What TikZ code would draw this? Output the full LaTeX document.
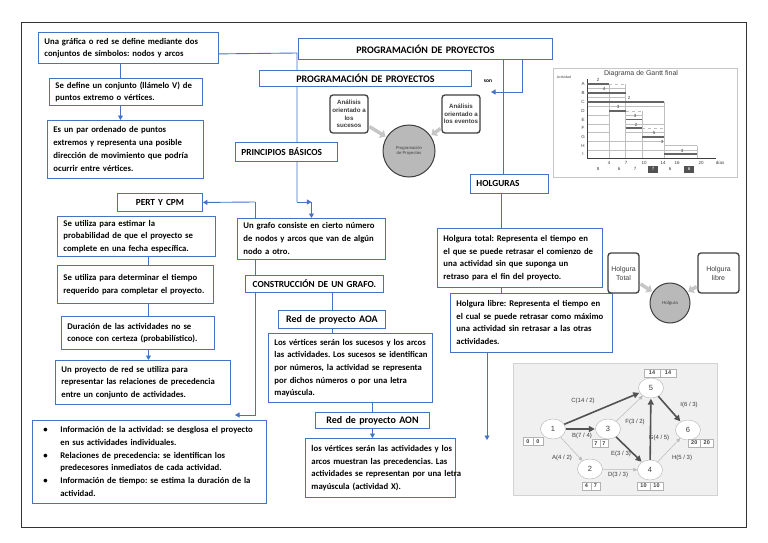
\documentclass[tikz,border=0pt]{standalone}
\usepackage{fontspec}
\setmainfont{Carlito}
\newfontfamily\arial{Liberation Sans}
\usetikzlibrary{arrows.meta,shapes.geometric,calc}
\pgfdeclarelayer{bg}
\pgfsetlayers{bg,main}
\definecolor{bl}{HTML}{4472C4}
\definecolor{dk}{HTML}{3F3F3F}
\frenchspacing
\newcommand{\lns}[1]{\begin{tabular}{@{}l@{}}#1\end{tabular}}
\tikzset{
 box/.style={draw=bl, line width=0.9pt, fill=white, anchor=north west, inner xsep=6pt, inner ysep=0pt, align=left, text=black, font=\bfseries\fontsize{8.7}{12.7}\selectfont},
 head/.style={box, align=center, font=\bfseries\fontsize{9.3}{11}\selectfont},
 bighead/.style={box, align=center, font=\bfseries\fontsize{10}{12}\selectfont},
 cn/.style={draw=bl, line width=0.9pt},
 arr/.style={cn, -{Triangle[width=5pt,length=4.5pt]}},
 anbox/.style={draw=dk, line width=1.3pt, rounded corners=3pt, fill=white, align=center, text=dk, inner sep=1pt},
 gcirc/.style={circle, draw=dk, line width=1pt, fill=gray!55, align=center, text=dk, inner sep=0pt},
 garrow/.style={draw=gray!45, line width=3.5pt, -{Triangle[width=9pt,length=5pt]}, shorten >=1pt, shorten <=1pt},
 nd/.style={ellipse, draw=gray!60, fill=white, minimum width=25pt, minimum height=20pt, inner sep=0pt, font=\arial\fontsize{7.5}{8}\selectfont, text=dk},
 cell/.style={draw=gray!60, fill=white, minimum height=8pt, inner sep=0pt, font=\arial\bfseries\fontsize{5.5}{6}\selectfont, text=dk},
 elab/.style={font=\arial\fontsize{6}{7}\selectfont, text=dk, inner sep=0pt},
 crit/.style={draw=dk!90, line width=1.6pt, -{Triangle[width=6pt,length=6pt]}, shorten >=0.5pt},
 weak/.style={draw=gray!55, line width=0.5pt, -{Triangle[width=3.5pt,length=4pt]}},
 gt/.style={font=\arial\fontsize{4.5}{5}\selectfont, text=dk, inner sep=0pt},
 gbar/.style={draw=dk!80, line width=1.3pt},
 ggrid/.style={draw=gray!50, line width=0.35pt},
}
\begin{document}
\begin{tikzpicture}[x=1pt,y=-1pt]
\useasboundingbox (0,0) rectangle (768,543);
\draw[line width=0.9pt, draw=black!80] (21,22) rectangle (746,527);

% ---------- left column
\node[box, minimum width=180pt, minimum height=31pt, text width=168pt] (b1) at (38,32) {\lns{Una gráfica o red se define mediante dos\\conjuntos de símbolos: nodos y arcos}};
\node[box, minimum width=153pt, minimum height=27pt, text width=141pt] (b2) at (49,78) {\lns{Se define un conjunto (llámelo V) de\\puntos extremo o vértices.}};
\node[box, minimum width=156pt, minimum height=58pt, text width=144pt] (b3) at (47,120) {\lns{Es un par ordenado de puntos\\extremos y representa una posible\\dirección de movimiento que podría\\ocurrir entre vértices.}};
\node[head, minimum width=85pt, minimum height=18pt, text width=73pt] (pert) at (117,193) {PERT Y CPM};
\node[box, minimum width=158pt, minimum height=40pt, text width=146pt] (p1) at (57,216) {\lns{Se utiliza para estimar la\\probabilidad de que el proyecto se\\complete en una fecha específica.}};
\node[box, minimum width=156pt, minimum height=38pt, text width=144pt] (p2) at (57,265) {\lns{Se utiliza para determinar el tiempo\\requerido para completar el proyecto.}};
\node[box, minimum width=153pt, minimum height=33pt, text width=141pt] (p3) at (61,316) {\lns{Duración de las actividades no se\\conoce con certeza (probabilístico).}};
\node[box, minimum width=175pt, minimum height=44pt, text width=163pt] (p4) at (55,360) {\lns{Un proyecto de red se utiliza para\\representar las relaciones de precedencia\\entre un conjunto de actividades.}};
\node[box, minimum width=234pt, minimum height=83pt, text width=222pt] (bul) at (32,420) {%
\begin{tabular}{@{}l@{}l@{}}
\makebox[22pt][l]{\hspace{5pt}\textbullet} & Información de la actividad: se desglosa el proyecto\\
 & en sus actividades individuales.\\
\makebox[22pt][l]{\hspace{5pt}\textbullet} & Relaciones de precedencia: se identifican los\\
 & predecesores inmediatos de cada actividad.\\
\makebox[22pt][l]{\hspace{5pt}\textbullet} & Información de tiempo: se estima la duración de la\\
 & actividad.
\end{tabular}};

% ---------- middle column
\node[bighead, minimum width=254pt, minimum height=21pt, text width=242pt] (prog1) at (298,38) {PROGRAMACIÓN DE PROYECTOS};
\node[bighead, minimum width=212pt, minimum height=16pt, text width=200pt] (prog2) at (259,70) {PROGRAMACIÓN DE PROYECTOS};
\node[font=\bfseries\fontsize{5.5}{6}\selectfont, inner sep=0pt] (son) at (488,81) {son};
\node[head, align=left, minimum width=102pt, minimum height=19pt, text width=90pt] (princ) at (235,142) {PRINCIPIOS BÁSICOS};
\node[box, minimum width=148pt, minimum height=41pt, text width=136pt] (grafo) at (237,218) {\lns{Un grafo consiste en cierto número\\de nodos y arcos que van de algún\\nodo a otro.}};
\node[head, minimum width=138pt, minimum height=17pt, text width=126pt] (constr) at (245,275) {CONSTRUCCIÓN DE UN GRAFO.};
\node[bighead, minimum width=107pt, minimum height=18pt, text width=95pt] (aoa) at (278,310) {Red de proyecto AOA};
\node[box, minimum width=164pt, minimum height=69pt, text width=152pt] (aoat) at (268,333) {\lns{Los vértices serán los sucesos y los arcos\\las actividades. Los sucesos se identifican\\por números, la actividad se representa\\por dichos números o por una letra\\mayúscula.}};
\node[bighead, minimum width=114pt, minimum height=16pt, text width=102pt] (aon) at (315,412) {Red de proyecto AON};
\node[box, minimum width=150pt, minimum height=59pt, text width=138pt] (aont) at (305,438) {\lns{los vértices serán las actividades y los\\arcos muestran las precedencias. Las\\actividades se representan por una letra\\mayúscula (actividad X).}};

% ---------- right column
\node[head, align=left, minimum width=78pt, minimum height=19pt, text width=66pt] (holg) at (470,174) {HOLGURAS};
\node[box, minimum width=165pt, minimum height=59pt, text width=153pt] (ht) at (437,228) {\lns{Holgura total: Representa el tiempo en\\el que se puede retrasar el comienzo de\\una actividad sin que suponga un\\retraso para el fin del proyecto.}};
\node[box, minimum width=162pt, minimum height=59pt, text width=150pt] (hl) at (450,293) {\lns{Holgura libre: Representa el tiempo en\\el cual se puede retrasar como máximo\\una actividad sin retrasar a las otras\\actividades.}};

% ---------- connectors
\coordinate (j1) at (297,53);
\coordinate (j2) at (297,202);
\coordinate (j3) at (255,202);
\coordinate (j4) at (255,415);
\coordinate (j5) at (235,415);
\coordinate (xr) at (503,0);
\coordinate (xr2) at (501,0);
\coordinate (xs) at (522,0);
\coordinate (k1) at (522,92);
\coordinate (k2) at (491,92);
\coordinate (xd) at (487,0);
\coordinate (d1) at (487,440);
\begin{pgfonlayer}{bg}
\draw[cn] ([yshift=10pt]b1.south east) -- (j1) -- (j2);
\draw[arr] (j3) -- (pert.east);
\draw[arr] (j2) -- (j2 -| grafo.north);
\draw[arr] (j2 -| grafo.north) -- (grafo.north);
\draw[arr] (j3) -- (j4) -- (j5);
\draw[cn] ([xshift=-8pt]b1.south) -- ([xshift=-8pt]b1.south |- b2.north);
\draw[arr] ([xshift=-8pt]b1.south |- b2.south) -- ([xshift=-8pt]b1.south |- b3.north);
\draw[cn] ([xshift=12pt]p1.south) -- ([xshift=12pt]p1.south |- p2.north);
\draw[cn] ([xshift=12pt]p1.south |- p2.south) -- ([xshift=12pt]p1.south |- p3.north);
\draw[arr] ([xshift=12pt]p1.south |- p3.south) -- ([xshift=12pt]p1.south |- p4.north);
\draw[cn] (constr.south -| aoa.north) -- (aoa.north);
\draw[cn] (aoa.south) -- (aoa.south |- aoat.north);
\draw[cn] (aon.north |- aoat.south) -- (aon.north);
\draw[arr] (aon.south) -- (aon.south |- aont.north);
\draw[cn] (prog1.south -| xr) -- (holg.north -| xr);
\draw[cn] (holg.south -| xr2) -- (ht.north -| xr2);
\draw[cn] (ht.south -| xr2) -- (hl.north -| xr2);
\draw[arr] (hl.south -| xd) -- (d1);
\draw[arr] (prog1.south -| xs) -- (k1) -- (k2);
\end{pgfonlayer}

% ---------- analisis figure
\node[anbox, minimum width=38pt, minimum height=38pt, font=\arial\bfseries\fontsize{6.2}{7.6}\selectfont] (as) at (349,114) {Análisis\\orientado a\\los\\sucesos};
\node[anbox, minimum width=38pt, minimum height=38pt, font=\arial\bfseries\fontsize{6.2}{7.6}\selectfont] (ae) at (461,114) {Análisis\\orientado a\\los eventos};
\node[gcirc, minimum size=52pt, font=\arial\fontsize{4.2}{5}\selectfont] (pc) at (409,151) {Programación\\de Proyectos};
\draw[garrow] (as) -- (pc);
\draw[garrow] (ae) -- (pc);

% ---------- holgura figure
\node[anbox, minimum width=31pt, minimum height=40pt, font=\arial\fontsize{7}{9}\selectfont] (hT) at (623.5,273) {Holgura\\Total};
\node[anbox, minimum width=41pt, minimum height=40pt, font=\arial\fontsize{7}{9}\selectfont] (hL) at (718.5,273) {Holgura\\libre};
\node[gcirc, minimum size=40pt, font=\arial\fontsize{4.5}{5}\selectfont] (hc) at (670,303) {Holgura};
\draw[garrow] (hT) -- (hc);
\draw[garrow] (hL) -- (hc);

% ---------- Gantt chart
\draw[draw=gray!45, fill=white, line width=0.6pt] (553,68) rectangle (737,177);
\node[font=\arial\fontsize{7}{8}\selectfont, text=dk, inner sep=0pt] (gtitle) at (641,74) {Diagrama de Gantt final};
\node[gt, font=\arial\fontsize{3.5}{4}\selectfont] (gact) at (564,77) {Actividad};
\foreach \l/\y [count=\i] in {A/84,B/93,C/102,D/111,E/119.5,F/128,G/137,H/145.5,I/154}{
  \node[gt, name=gr\i] at (583,\y) {\l};
  \draw[ggrid] (587,\y+4.3) -- (609,\y+4.3);
}
\draw[ggrid] (609,88.3) -- (625.5,88.3);
\draw[ggrid] (609,97.3) -- (625.5,97.3);
\draw[ggrid] (609,106.3) -- (664,106.3);
\draw[ggrid] (625.5,115.3) -- (642,115.3);
\draw[ggrid] (625.5,123.8) -- (664,123.8);
\draw[ggrid] (625.5,132.3) -- (664,132.3);
\draw[ggrid] (609,141.3) -- (664,141.3);
\draw[ggrid] (609,149.8) -- (697,149.8);
\draw[ggrid] (609,84) -- (609,158);
\draw[ggrid] (625.5,84) -- (625.5,158);
\draw[ggrid] (642,111) -- (642,158);
\draw[ggrid] (664,102) -- (664,158);
\draw[ggrid] (697,145.5) -- (697,158);
\draw[ggrid] (664,145.5) -- (697,145.5);
\draw[ggrid, dashed] (609,84) -- (625.5,84);
\draw[ggrid, dashed] (625.5,111) -- (642,111);
\draw[ggrid, dashed] (642,128) -- (664,128);
\draw[draw=dk, line width=0.5pt] (587,79) -- (587,158) -- (716,158);
\draw[gbar] (587,84) -- (609,84);
\draw[gbar] (587,93) -- (625.5,93);
\draw[gbar] (587,102) -- (664,102);
\draw[gbar] (609,111) -- (625.5,111);
\draw[gbar] (625.5,119.5) -- (642,119.5);
\draw[gbar] (625.5,128) -- (642,128);
\draw[gbar] (642,137) -- (664,137);
\draw[gbar] (664,154) -- (697,154);
\foreach \x/\y/\t [count=\i] in {598/80/2,604/89/4,629/98/2,618/107/3,635/116/3,636/124.5/2,654/133/5,662/142/3,682/151/3}{
  \node[gt, name=gn\i] at (\x,\y) {\t};
}
\foreach \x/\t [count=\i] in {609/4,626/7,644/10,663/14,677/16,701/20,720/días}{
  \node[gt, name=gx\i] at (\x,163) {\t};
}
\foreach \x/\t [count=\i] in {598/8,619/6,635/7,670/6}{
  \node[gt, name=gb\i] at (\x,169) {\t};
}
\node[gt, fill=dk!90, text=white, minimum width=10pt, minimum height=7pt] (gd1) at (653,169) {7};
\node[gt, fill=dk!90, text=white, minimum width=10pt, minimum height=7pt] (gd2) at (689,169) {6};

% ---------- network figure
\draw[draw=gray!35, fill=gray!12, line width=0.6pt] (513,363) rectangle (717,495);
\node[nd] (n1) at (553,429) {1};
\node[nd] (n2) at (590,469) {2};
\node[nd] (n3) at (608,429) {3};
\node[nd] (n4) at (650,470) {4};
\node[nd] (n5) at (651,388) {5};
\node[nd] (n6) at (688,430) {6};
\draw[weak] (n1) -- (n2);
\draw[weak] (n2) -- (n4);
\draw[weak] (n3) -- (n5);
\draw[weak] (n4) -- (n6);
\draw[crit] (n1) -- (n5);
\draw[crit] (n1) -- (n3);
\draw[crit] (n3) -- (n4);
\draw[crit] (n4) -- (n5);
\draw[crit] (n5) -- (n6);
\node[elab] (lC) at (583,401) {C(14 / 2)};
\node[elab] (lB) at (582,436) {B(7 / 4)};
\node[elab] (lA) at (562,458) {A(4 / 2)};
\node[elab] (lD) at (618,475) {D(3 / 3)};
\node[elab] (lE) at (621,454) {E(3 / 3)};
\node[elab] (lF) at (635,422) {F(3 / 2)};
\node[elab] (lG) at (659,438) {G(4 / 5)};
\node[elab] (lH) at (682,458) {H(5 / 3)};
\node[elab] (lI) at (689,405) {I(6 / 3)};
\node[cell, minimum width=16pt] (c5a) at (652,373) {14};
\node[cell, minimum width=16pt] (c5b) at (668,373) {14};
\node[cell, minimum width=10pt] (c1a) at (528,441.5) {0};
\node[cell, minimum width=10pt] (c1b) at (538,441.5) {0};
\node[cell, minimum width=8pt] (c3a) at (596,443.5) {7};
\node[cell, minimum width=8pt] (c3b) at (604,443.5) {7};
\node[cell, minimum width=12.5pt] (c6a) at (694.25,443) {20};
\node[cell, minimum width=12.5pt] (c6b) at (706.75,443) {20};
\node[cell, minimum width=9pt] (c2a) at (586.5,486) {4};
\node[cell, minimum width=9pt] (c2b) at (595.5,486) {7};
\node[cell, minimum width=13pt] (c4a) at (643.5,486) {10};
\node[cell, minimum width=13pt] (c4b) at (656.5,486) {10};
\end{tikzpicture}
\end{document}
